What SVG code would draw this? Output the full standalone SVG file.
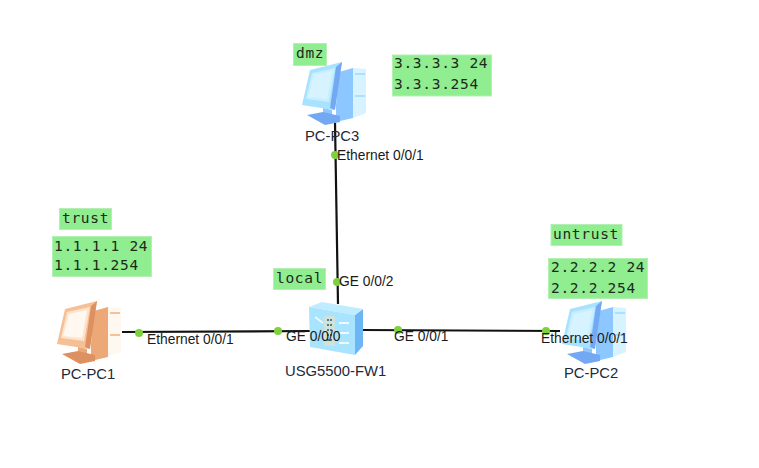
<svg xmlns="http://www.w3.org/2000/svg" width="759" height="468" viewBox="0 0 759 468">
<style>
.lbl{font-family:"Liberation Sans",Arial,sans-serif;font-size:14.8px;fill:#222a3a}
.port{font-family:"Liberation Sans",Arial,sans-serif;font-size:13.8px;fill:#1a1a1a}
.note{font-family:"DejaVu Sans Mono",monospace;font-size:14.5px;fill:#1c2a1c;letter-spacing:.7px}
.bg{fill:#90ee90;stroke:#b4f0b4;stroke-width:1}
.link{stroke:#111;stroke-width:2.200;fill:none}
.dot{fill:#7fd13b}
.a{fill:var(--a)}.b{fill:var(--b)}.c{fill:var(--c)}.d{fill:var(--d)}.e{fill:var(--e)}.f{fill:var(--f)}
.blue{--a:#8cc8ff;--b:#c8effF;--c:#a8e2ff;--d:#c4efff;--e:#74a8f2;--f:#d6f3ff}
.orange{--a:#eda878;--b:#ffe3cc;--c:#f6c096;--d:#ffd9bb;--e:#dd9160;--f:#fff8f1}
</style>
<defs>
<g id="pc">
<polygon class="a" points="339,72 353,68 353,118 336,122 336,105"/>
<polygon class="f" points="353,68 366,69 366,113 353,118"/>
<rect class="c" x="355" y="73" width="10" height="2"/>
<rect class="c" x="355" y="95" width="10" height="2"/>
<polygon class="c" points="310,70 342,62 334,110 302,105"/>
<polygon class="e" points="336,67 342,62 335,110 330,108"/>
<polygon class="b" points="312,73 335,68 329,102 306,99"/>
<polygon class="f" points="314,75 332,71 327,99 308,97"/>
<polygon class="a" points="323,108 332,110 332,118 323,116"/>
<polygon class="e" points="307,115 323,112 340,116 340,122 325,125"/>
</g>
</defs>
<g id="connectors">
<line class="link" x1="122" y1="332" x2="310" y2="331"/>
<line class="link" x1="362" y1="330" x2="560" y2="331"/>
<line class="link" x1="335" y1="122" x2="338" y2="304"/>
<circle class="dot" cx="139" cy="333" r="4"/>
<circle class="dot" cx="278" cy="331" r="4"/>
<circle class="dot" cx="398" cy="330" r="4"/>
<circle class="dot" cx="546" cy="331" r="4"/>
<circle class="dot" cx="335" cy="155" r="4"/>
<circle class="dot" cx="337" cy="282" r="4"/>
</g>
<g id="PC1" class="orange">
<use href="#pc" transform="translate(-245 239)"/>
<text class="lbl" x="61" y="379">PC-PC1</text>
</g>
<g id="PC3" class="blue">
<use href="#pc"/>
<text class="lbl" x="305" y="141">PC-PC3</text>
</g>
<g id="PC2" class="blue">
<use href="#pc" transform="translate(260 239)"/>
<text class="lbl" x="564" y="378">PC-PC2</text>
</g>
<g id="FW1">
<polygon fill="#6cb6f6" points="355,315 363,309 363,346 355,355"/>
<polygon fill="#c0ecff" points="309,307 322,302 363,309 355,315"/>
<polygon fill="#a8e4fd" points="309,307 355,315 355,355 310,347"/>
<rect x="324" y="316" width="11" height="30" fill="#cfe3de"/>
<path d="M327 320h6M327 325h6M327 330h6M327 335h6M327 340h6" stroke="#5c7a78" stroke-width="2" stroke-dasharray="2 1" fill="none"/>
<path d="M315 317l8 6M339 323h10M339 333h10M339 343h10" stroke="#eafaff" stroke-width="2" fill="none"/>
<text class="lbl" x="285" y="376">USG5500-FW1</text>
</g>
<g id="port-labels">
<text class="port" x="147" y="344">Ethernet 0/0/1</text>
<text class="port" x="286" y="341">GE 0/0/0</text>
<text class="port" x="394" y="341">GE 0/0/1</text>
<text class="port" x="541" y="343">Ethernet 0/0/1</text>
<text class="port" x="337" y="160">Ethernet 0/0/1</text>
<text class="port" x="339" y="286">GE 0/0/2</text>
</g>
<g id="note-dmz"><rect class="bg" x="293.500" y="43.500" width="33" height="22"/><text class="note" x="296" y="58">dmz</text></g>
<g id="note-pc3"><rect class="bg" x="392.500" y="55" width="99" height="41"/><text class="note" x="394" y="68">3.3.3.3 24</text><text class="note" x="394" y="89">3.3.3.254</text></g>
<g id="note-trust"><rect class="bg" x="59.500" y="208.500" width="52" height="21"/><text class="note" x="62" y="223">trust</text></g>
<g id="note-pc1"><rect class="bg" x="52.500" y="236.500" width="99" height="40"/><text class="note" x="54" y="251">1.1.1.1 24</text><text class="note" x="54" y="270">1.1.1.254</text></g>
<g id="note-local"><rect class="bg" x="273.500" y="268.500" width="52" height="21"/><text class="note" x="276" y="283">local</text></g>
<g id="note-untrust"><rect class="bg" x="551" y="224.500" width="71" height="21"/><text class="note" x="553" y="239">untrust</text></g>
<g id="note-pc2"><rect class="bg" x="548.500" y="258.500" width="99" height="40"/><text class="note" x="551" y="272">2.2.2.2 24</text><text class="note" x="551" y="293">2.2.2.254</text></g>
</svg>
